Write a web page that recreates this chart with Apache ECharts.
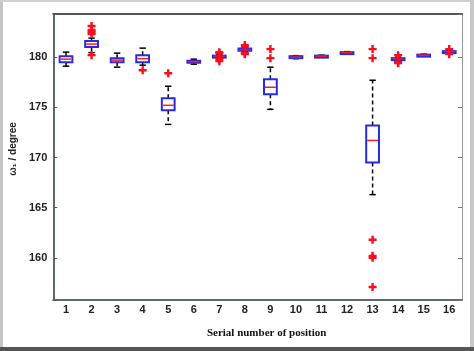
<!DOCTYPE html>
<html>
<head>
<meta charset="utf-8">
<script src="https://cdn.jsdelivr.net/npm/echarts@6/dist/echarts.min.js"></script>
<style>
  html, body { margin: 0; padding: 0; background: #fff; }
  #chart { width: 474px; height: 351px; }
</style>
</head>
<body>
<div id="chart"></div>
<script>
// serial number of position
var positions = ['1', '2', '3', '4', '5', '6', '7', '8', '9', '10', '11', '12', '13', '14', '15', '16']
// box stats (degree)
var lowWhisker  = [179.1, 180.45, 179.0, 179.2, 173.3, 179.3, 179.9, 180.55, 174.8, 179.85, 180.0, 180.3, 166.3, 179.7, 180.1, 180.4]
var q1          = [179.5, 181.0, 179.5, 179.5, 174.7, 179.45, 180.0, 180.65, 176.3, 179.95, 180.05, 180.35, 169.5, 179.75, 180.15, 180.45]
var median      = [179.8, 181.3, 179.7, 179.85, 175.2, 179.55, 180.1, 180.75, 177.0, 180.0, 180.1, 180.45, 171.7, 179.85, 180.2, 180.55]
var q3          = [180.1, 181.6, 179.9, 180.2, 175.9, 179.65, 180.15, 180.85, 177.8, 180.1, 180.15, 180.5, 173.2, 179.9, 180.25, 180.6]
var highWhisker = [180.5, 181.9, 180.4, 180.9, 177.1, 179.8, 180.25, 180.95, 179.0, 180.15, 180.2, 180.55, 177.7, 180.0, 180.3, 180.65]
// outliers per position
var outliers = [
    [],
    [183.1, 182.7, 182.5, 182.3, 180.2],
    [],
    [178.7],
    [178.4],
    [],
    [180.5, 180.4, 179.8, 179.6],
    [181.2, 181.05, 180.4, 180.3],
    [180.8, 179.9],
    [],
    [],
    [],
    [180.8, 179.9, 161.8, 160.2, 160.0, 157.1],
    [180.2, 179.5, 179.4],
    [],
    [180.8, 180.3]
]

var boxData = positions.map(function (p, i) {
    return [i, lowWhisker[i], q1[i], median[i], q3[i], highWhisker[i]]
})
var outlierData = []
outliers.forEach(function (list, i) {
    list.forEach(function (v) { outlierData.push([i, v]) })
})

var yMin = 155.8, yMax = 184.3
var labelFont = {color: '#222', fontSize: 11, fontFamily: 'Liberation Sans, Arial, sans-serif'}

//箱子、须线、中位线都用custom画
function renderBox(params, api) {
    var x = api.value(0)
    var low = api.coord([x, api.value(1)])
    var b1 = api.coord([x, api.value(2)])
    var med = api.coord([x, api.value(3)])
    var b3 = api.coord([x, api.value(4)])
    var high = api.coord([x, api.value(5)])
    var bw = api.size([1, 0])[0] * 0.5
    var cw = bw * 0.25
    var dash = {stroke: '#000', lineWidth: 1.5, lineDash: [4, 3]}
    var cap = {stroke: '#000', lineWidth: 1.5}
    return {
        type: 'group',
        children: [
            {type: 'line', shape: {x1: low[0], y1: b1[1], x2: low[0], y2: low[1]}, style: dash},
            {type: 'line', shape: {x1: high[0], y1: b3[1], x2: high[0], y2: high[1]}, style: dash},
            {type: 'line', shape: {x1: low[0] - cw, y1: low[1], x2: low[0] + cw, y2: low[1]}, style: cap},
            {type: 'line', shape: {x1: high[0] - cw, y1: high[1], x2: high[0] + cw, y2: high[1]}, style: cap},
            {
                type: 'rect',
                shape: {x: b3[0] - bw / 2, y: b3[1], width: bw, height: Math.max(b1[1] - b3[1], 2)},
                style: {fill: '#fff', stroke: '#2a2ae0', lineWidth: 2}
            },
            {type: 'line', shape: {x1: med[0] - bw / 2 + 1, y1: med[1], x2: med[0] + bw / 2 - 1, y2: med[1]},
                style: {stroke: '#ff1a1a', lineWidth: 1.5}}
        ]
    }
}

var chart = echarts.init(document.getElementById('chart'))
chart.setOption({
    animation: false,
    backgroundColor: '#fff',
    grid: {left: 53, right: 12, top: 14, bottom: 51},
    graphic: [
        {type: 'rect', left: 0, top: 0, shape: {width: 3, height: 351}, style: {fill: '#c4c4c4'}},
        {type: 'rect', left: 0, top: 0, shape: {width: 474, height: 2}, style: {fill: '#d0d0d0'}},
        {type: 'rect', right: 0, top: 0, shape: {width: 4, height: 351}, style: {fill: '#c8c8c8'}},
        {type: 'rect', left: 0, bottom: 0, shape: {width: 474, height: 4}, style: {fill: '#555'}}
    ],
    xAxis: [{
        type: 'category',
        data: positions,
        boundaryGap: true,
        axisLine: {lineStyle: {color: '#5f6b6b', width: 2}},
        axisTick: {show: false},
        axisLabel: Object.assign({margin: 4, fontWeight: 'bold'}, labelFont),
        name: 'Serial number of position',
        nameLocation: 'middle',
        nameGap: 28,
        nameTextStyle: {
            color: '#111', fontSize: 11, fontWeight: 'bold',
            fontFamily: 'Liberation Serif, Times New Roman, serif',
            padding: [0, 0, 0, 18]
        }
    }, {
        type: 'category',
        data: positions,
        position: 'top',
        axisLine: {lineStyle: {color: '#555', width: 2}},
        axisTick: {show: false},
        axisLabel: {show: false}
    }],
    yAxis: [{
        type: 'value',
        min: yMin,
        max: yMax,
        axisLine: {show: true, lineStyle: {color: '#5f6b6b', width: 2}},
        axisTick: {show: true, inside: true, length: 4, lineStyle: {color: '#555'}},
        splitLine: {show: false},
        axisLabel: Object.assign({
            margin: 6, fontWeight: 'bold',
            formatter: function (v) { return Math.abs(v % 5) < 1e-6 ? String(v) : '' }
        }, labelFont),
        name: 'ω₁ / degree',
        nameLocation: 'middle',
        nameRotate: 90,
        nameGap: 30,
        nameTextStyle: {color: '#222', fontSize: 10, fontWeight: 'bold', fontFamily: 'Liberation Sans, Arial, sans-serif',
            padding: [0, 0, 0, 16]}
    }, {
        type: 'value',
        min: yMin,
        max: yMax,
        position: 'right',
        axisLine: {show: true, lineStyle: {color: '#999', width: 1}},
        axisTick: {show: true, inside: true, length: 4, lineStyle: {color: '#777'}},
        splitLine: {show: false},
        axisLabel: {show: false}
    }],
    series: [{
        type: 'custom',
        renderItem: renderBox,
        data: boxData,
        encode: {x: 0, y: [1, 2, 3, 4, 5]},
        z: 2
    }, {
        type: 'scatter',
        data: outlierData,
        symbol: 'path://M3.5,0H6.5V3.5H10V6.5H6.5V10H3.5V6.5H0V3.5H3.5Z',
        symbolSize: 8,
        itemStyle: {color: '#ff0a1e', opacity: 1},
        z: 3
    }]
})
</script>
</body>
</html>
